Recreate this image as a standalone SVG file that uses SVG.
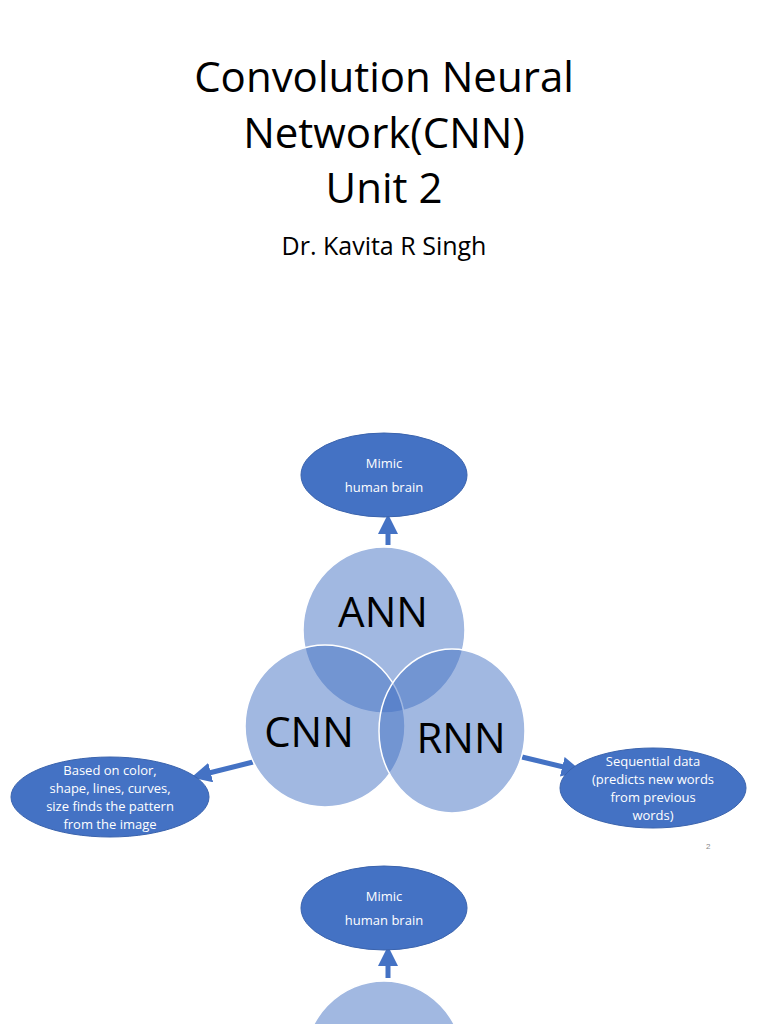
<svg xmlns="http://www.w3.org/2000/svg" width="768" height="1024" viewBox="0 0 768 1024">
<defs>
<style>
.t{font-family:"Open Sans","Liberation Sans",sans-serif;fill:#000;text-anchor:middle}
.n{fill:#4472c4;stroke:#3a63ad;stroke-width:1}
.c{fill:#4472c4;fill-opacity:0.5;stroke:#fff;stroke-width:1.5}
.w{font-family:"Open Sans","Liberation Sans",sans-serif;fill:#fff;text-anchor:middle;font-size:13px}
.b{font-family:"Open Sans","Liberation Sans",sans-serif;fill:#000;text-anchor:middle;font-size:42px}
.a{stroke:#4472c4;stroke-width:5;fill:none;marker-end:url(#m)}
</style>
<marker id="m" markerWidth="4" markerHeight="4" refX="2" refY="2" orient="auto" markerUnits="strokeWidth"><path d="M0,0 L4,2 L0,4 z" fill="#4472c4"/></marker>
</defs>
<rect width="768" height="1024" fill="#fff"/>
<g id="title">
<text class="t" x="384" y="92" font-size="42">Convolution Neural</text>
<text class="t" x="384" y="148" font-size="42">Network(CNN)</text>
<text class="t" x="384" y="203" font-size="42">Unit 2</text>
<text class="t" x="384" y="255" font-size="25">Dr. Kavita R Singh</text>
</g>
<g id="connectors">
<line class="a" x1="388" y1="545" x2="388" y2="524"/>
<line class="a" x1="253" y1="762" x2="201" y2="775"/>
<line class="a" x1="522" y1="757" x2="572" y2="769"/>
<line class="a" x1="388" y1="978" x2="388" y2="956"/>
</g>
<g id="venn">
<ellipse id="ann" class="c" cx="384" cy="630" rx="81" ry="83"/>
<ellipse id="cnn" class="c" cx="325" cy="726" rx="80" ry="81"/>
<ellipse id="rnn" class="c" cx="452" cy="731" rx="73" ry="82"/>
<ellipse id="bottom" class="c" cx="384" cy="1064" rx="80" ry="83"/>
<text class="b" x="383" y="627">ANN</text>
<text class="b" x="309" y="747">CNN</text>
<text class="b" x="461" y="753">RNN</text>
</g>
<g id="top"><ellipse class="n" cx="384" cy="475" rx="83" ry="42"/><text class="w" x="384" y="468" font-size="15">Mimic</text><text class="w" x="384" y="492" font-size="15">human brain</text></g>
<g id="left"><ellipse class="n" cx="110" cy="797" rx="99" ry="40"/><text class="w" x="110" y="775">Based on color,</text><text class="w" x="110" y="793">shape, lines, curves,</text><text class="w" x="110" y="811">size finds the pattern</text><text class="w" x="110" y="829">from the image</text></g>
<g id="right"><ellipse class="n" cx="653" cy="788" rx="93" ry="40"/><text class="w" x="653" y="766">Sequential data</text><text class="w" x="653" y="784">(predicts new words</text><text class="w" x="653" y="802">from previous</text><text class="w" x="653" y="820">words)</text></g>
<g id="bottom2"><ellipse class="n" cx="384" cy="908" rx="83" ry="42"/><text class="w" x="384" y="901" font-size="15">Mimic</text><text class="w" x="384" y="925" font-size="15">human brain</text></g>
<text x="706" y="849" font-family="Liberation Sans,sans-serif" font-size="8" fill="#888">2</text>
</svg>
